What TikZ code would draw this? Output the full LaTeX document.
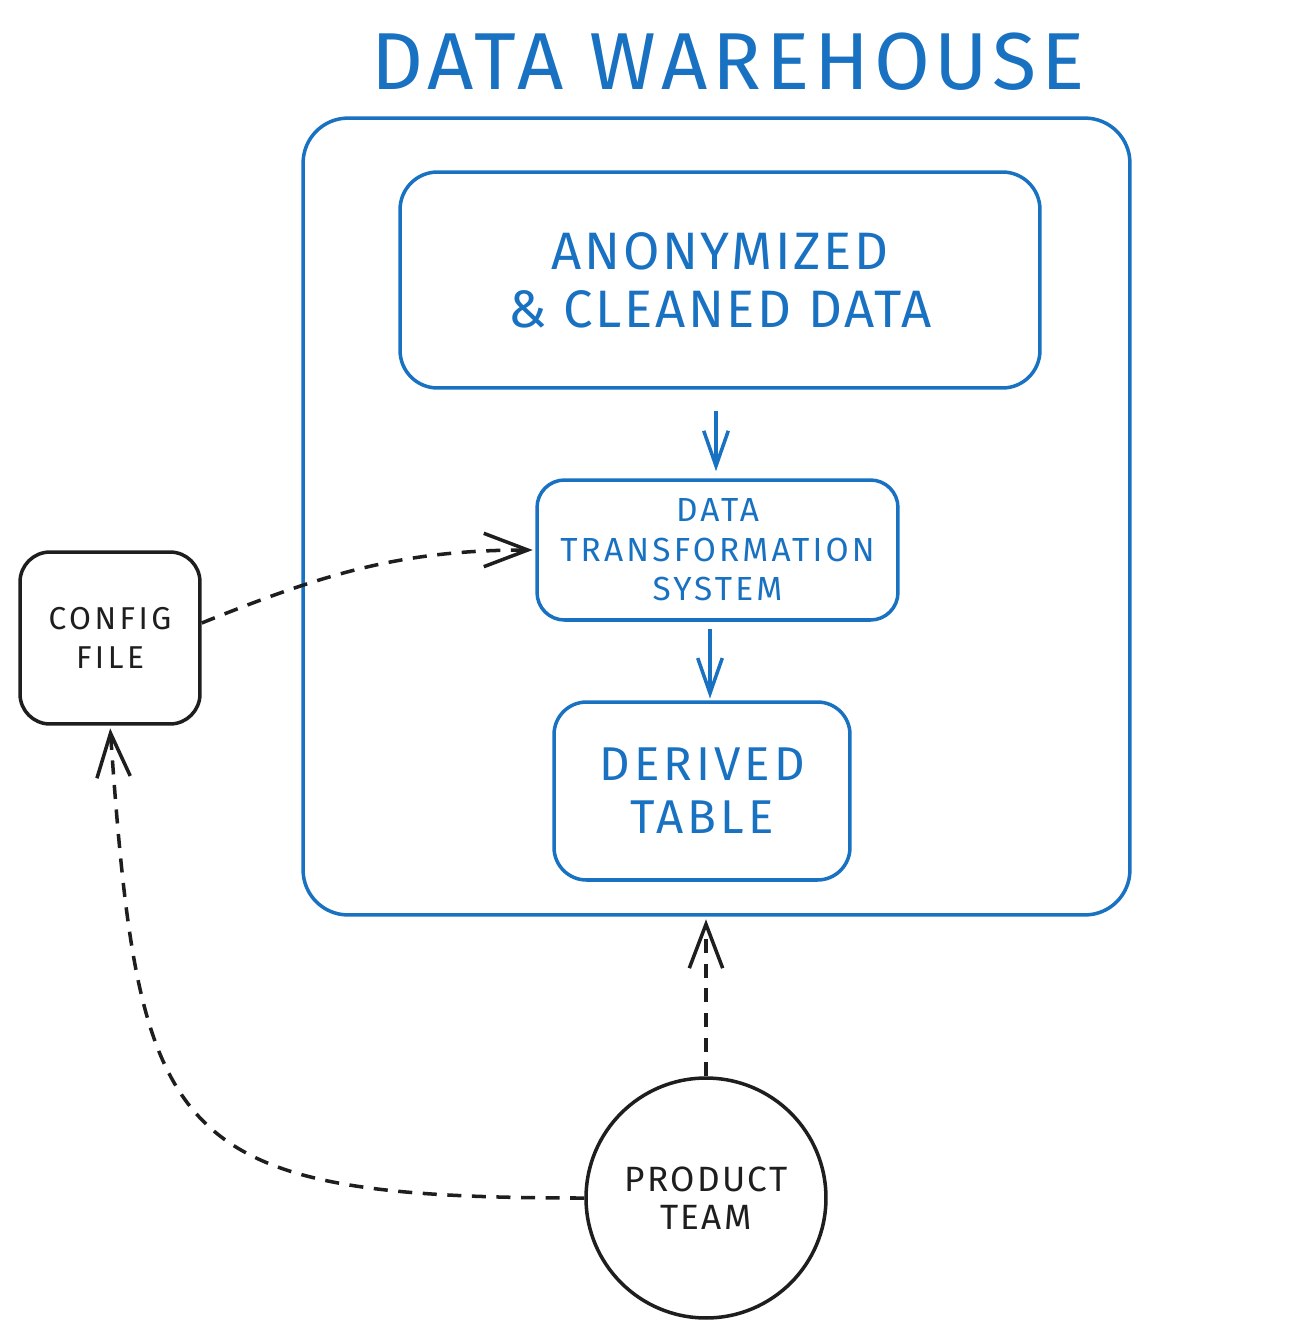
\documentclass[tikz,border=0pt]{standalone}
\usepackage{fontspec}
\setmainfont{Fira Sans}[LetterSpace=8]
\usetikzlibrary{arrows.meta,positioning,calc}
\definecolor{whblue}{HTML}{1971C2}
\definecolor{ink}{HTML}{1E1E1E}

\begin{document}
\begin{tikzpicture}[x=0.02cm,y=-0.02cm,
  title/.style={text=whblue,font=\fontsize{46}{50}\selectfont\addfontfeature{LetterSpace=6}},
  whbox/.style={draw=whblue,line width=2pt,rounded corners=0.9cm,inner sep=0pt},
  bluebox/.style={draw=whblue,line width=2pt,rounded corners=0.75cm,text=whblue,align=center,inner sep=0pt},
  blackbox/.style={draw=ink,line width=2pt,rounded corners=0.6cm,text=ink,align=center,inner sep=0pt},
  flow/.style={draw=whblue,line width=2pt,-{Straight Barb[length=20pt,width=14pt,line width=2pt]}},
  dashflow/.style={draw=ink,line width=2pt,dash pattern=on 8pt off 6pt,
    -{Straight Barb[length=25pt,width=19pt,line width=2pt,sep]}}]

 \useasboundingbox (0,0) rectangle (1291,1339);

 % warehouse frame and title
 \node[title] (title) at (728,62) {DATA WAREHOUSE};
 \node[whbox,minimum width=16.54cm,minimum height=15.94cm] (wh) at (716.5,516.5) {};

 % stages inside the warehouse
 \node[bluebox,minimum width=12.8cm,minimum height=4.32cm,
   font=\fontsize{30}{33}\selectfont\addfontfeature{LetterSpace=5}] (anon) at (720,280) {ANONYMIZED\\\& CLEANED DATA};
 \node[bluebox,minimum width=7.22cm,minimum height=2.8cm,rounded corners=0.55cm,
   font=\fontsize{19}{22.5}\selectfont\addfontfeature{LetterSpace=9.5}] (dts) at (717.5,550) {DATA\\TRANSFORMATION\\SYSTEM};
 \node[bluebox,minimum width=5.92cm,minimum height=3.56cm,rounded corners=0.65cm,
   font=\fontsize{27}{30}\selectfont\addfontfeature{LetterSpace=8.5}] (derived) at (702,791) {DERIVED\\TABLE};

 \draw[flow,shorten <=12pt,shorten >=4pt] ([xshift=-0.08cm]anon.south) -- ([xshift=-0.08cm]anon.south |- dts.north);
 \draw[flow,shorten <=4pt,shorten >=1pt] ([xshift=-0.15cm]dts.south) -- ([xshift=-0.15cm]dts.south |- derived.north);

 % outside the warehouse
 \node[blackbox,minimum width=3.6cm,minimum height=3.44cm,
   font=\fontsize{18}{22}\selectfont\addfontfeature{LetterSpace=11}] (config) at (110,638) {CONFIG\\FILE};
 \node[circle,draw=ink,line width=2pt,minimum size=4.8cm,inner sep=0pt,text=ink,align=center,
   font=\fontsize{20}{22}\selectfont\addfontfeature{LetterSpace=6.5}] (team) at (706,1198) {PRODUCT\\TEAM};

 \draw[dashflow] ([yshift=0.3cm]config.east) to[out=22,in=180] (dts.west);
 \draw[dashflow] (team.north) -- (team.north |- wh.south);
 \draw[dashflow] (team.west) to[out=180,in=-86,looseness=1.6] (config.south);
\end{tikzpicture}
\end{document}
